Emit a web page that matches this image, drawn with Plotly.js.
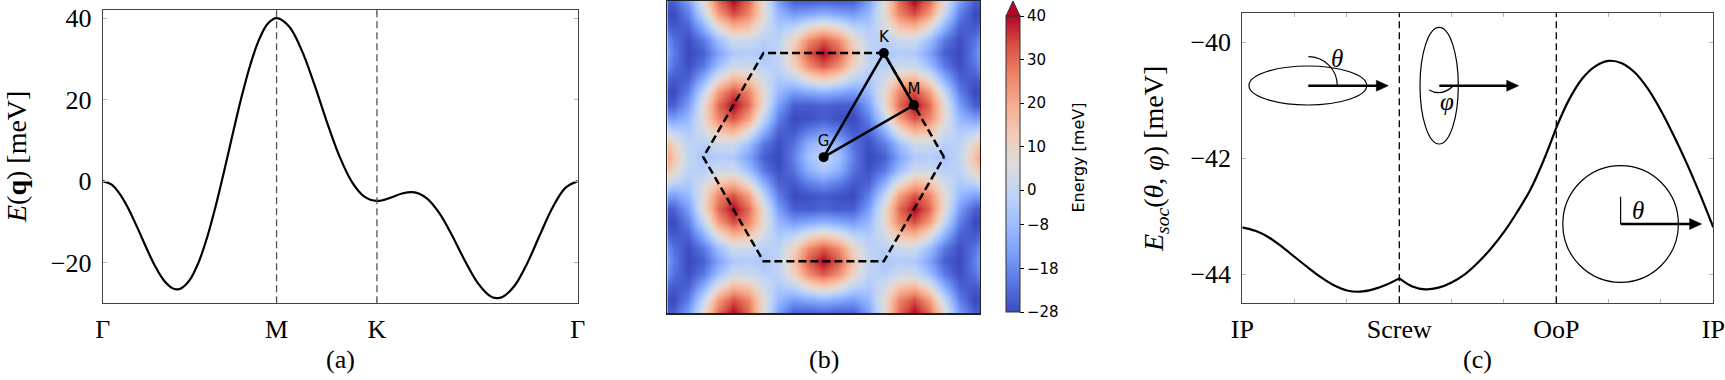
<!DOCTYPE html>
<html><head><meta charset="utf-8">
<script src="https://cdn.plot.ly/plotly-3.0.1.min.js"></script>
<style>html,body{margin:0;padding:0;background:#fff}#chart{width:1725px;height:380px}</style>
</head><body><div id="chart"></div>
<script>
// ---------- Panel (a): dispersion along Γ-M-K-Γ ----------
const pathTickPos = [0, 0.866, 1.366, 2.366];
const pathTickText = ['Γ', 'M', 'K', 'Γ'];
const pathX = [0, 0.0433, 0.0866, 0.1299, 0.1732, 0.2165, 0.2598, 0.3031, 0.3464, 0.3681, 0.3897, 0.4330, 0.4763, 0.5196, 0.5629, 0.6062, 0.6495, 0.6928, 0.7361, 0.7794, 0.8227, 0.8660,
  0.9285, 0.9910, 1.0535, 1.1160, 1.1785, 1.2410, 1.3035, 1.3660,
  1.4285, 1.4910, 1.5535, 1.6160, 1.6785, 1.7410, 1.8035, 1.8660, 1.9285, 1.9598, 1.9910, 2.0535, 2.1160, 2.1785, 2.2410, 2.3035, 2.3660];
const pathE = [0, -0.83, -3.25, -6.95, -11.49, -16.30, -20.77, -24.27, -26.27, -26.57, -26.37, -24.32, -20.11, -13.91, -6.11, 2.75, 11.98, 20.87, 28.69, 34.79, 38.67, 40.00,
  37.94, 32.15, 23.84, 14.62, 6.18, -0.18, -3.81, -4.86,
  -4.19, -3.05, -2.78, -4.32, -8.00, -13.41, -19.49, -24.86, -28.17, -28.72, -28.46, -25.56, -20.02, -13.12, -6.49, -1.72, 0];

// ---------- Panel (b): energy map ----------
const qxGrid = [-1.375, -1.25, -1.125, -1.0, -0.875, -0.75, -0.625, -0.5, -0.375, -0.25, -0.125, 0, 0.125, 0.25, 0.375, 0.5, 0.625, 0.75, 0.875, 1.0, 1.125, 1.25, 1.375];
const qyGrid = [-1.299, -1.19075, -1.0825, -0.97425, -0.866, -0.75775, -0.6495, -0.54125, -0.433, -0.32475, -0.2165, -0.10825, 0, 0.10825, 0.2165, 0.32475, 0.433, 0.54125, 0.6495, 0.75775, 0.866, 0.97425, 1.0825, 1.19075, 1.299];
const energyGrid = [
 [-25.55,-24.86,-14.32,7.30,30.15,40.00,30.15,7.30,-14.32,-24.86,-25.55,-24.32,-25.55,-24.86,-14.32,7.30,30.15,40.00,30.15,7.30,-14.32,-24.86,-25.55],
 [-27.32,-28.24,-19.73,0.23,22.55,33.51,26.51,7.88,-8.91,-14.99,-12.54,-10.18,-12.54,-14.99,-8.91,7.88,26.51,33.51,22.55,0.23,-19.73,-28.24,-27.32],
 [-20.02,-26.03,-24.32,-10.85,7.30,17.84,14.62,3.29,-4.32,-1.53,7.30,11.98,7.30,-1.53,-4.32,3.29,14.62,17.84,7.30,-10.85,-24.32,-26.03,-20.02],
 [-10.64,-21.95,-27.39,-20.85,-7.39,2.17,2.17,-2.38,-1.25,10.06,25.06,31.99,25.06,10.06,-1.25,-2.38,2.17,2.17,-7.39,-20.85,-27.39,-21.95,-10.64],
 [-6.49,-20.02,-28.46,-24.86,-13.41,-4.32,-3.05,-4.86,-0.18,14.62,32.15,40.00,32.15,14.62,-0.18,-4.86,-3.05,-4.32,-13.41,-24.86,-28.46,-20.02,-6.49],
 [-10.64,-21.95,-27.39,-20.85,-7.39,2.17,2.17,-2.38,-1.25,10.06,25.06,31.99,25.06,10.06,-1.25,-2.38,2.17,2.17,-7.39,-20.85,-27.39,-21.95,-10.64],
 [-20.02,-26.03,-24.32,-10.85,7.30,17.84,14.62,3.29,-4.32,-1.53,7.30,11.98,7.30,-1.53,-4.32,3.29,14.62,17.84,7.30,-10.85,-24.32,-26.03,-20.02],
 [-27.32,-28.24,-19.73,0.23,22.55,33.51,26.51,7.88,-8.91,-14.99,-12.54,-10.18,-12.54,-14.99,-8.91,7.88,26.51,33.51,22.55,0.23,-19.73,-28.24,-27.32],
 [-25.55,-24.86,-14.32,7.30,30.15,40.00,30.15,7.30,-14.32,-24.86,-25.55,-24.32,-25.55,-24.86,-14.32,7.30,30.15,40.00,30.15,7.30,-14.32,-24.86,-25.55],
 [-12.54,-14.99,-8.91,7.88,26.51,33.51,22.55,0.23,-19.73,-28.24,-27.32,-25.48,-27.32,-28.24,-19.73,0.23,22.55,33.51,26.51,7.88,-8.91,-14.99,-12.54],
 [7.30,-1.53,-4.32,3.29,14.62,17.84,7.30,-10.85,-24.32,-26.03,-20.02,-16.30,-20.02,-26.03,-24.32,-10.85,7.30,17.84,14.62,3.29,-4.32,-1.53,7.30],
 [25.06,10.06,-1.25,-2.38,2.17,2.17,-7.39,-20.85,-27.39,-21.95,-10.64,-4.97,-10.64,-21.95,-27.39,-20.85,-7.39,2.17,2.17,-2.38,-1.25,10.06,25.06],
 [32.15,14.62,-0.18,-4.86,-3.05,-4.32,-13.41,-24.86,-28.46,-20.02,-6.49,0.00,-6.49,-20.02,-28.46,-24.86,-13.41,-4.32,-3.05,-4.86,-0.18,14.62,32.15],
 [25.06,10.06,-1.25,-2.38,2.17,2.17,-7.39,-20.85,-27.39,-21.95,-10.64,-4.97,-10.64,-21.95,-27.39,-20.85,-7.39,2.17,2.17,-2.38,-1.25,10.06,25.06],
 [7.30,-1.53,-4.32,3.29,14.62,17.84,7.30,-10.85,-24.32,-26.03,-20.02,-16.30,-20.02,-26.03,-24.32,-10.85,7.30,17.84,14.62,3.29,-4.32,-1.53,7.30],
 [-12.54,-14.99,-8.91,7.88,26.51,33.51,22.55,0.23,-19.73,-28.24,-27.32,-25.48,-27.32,-28.24,-19.73,0.23,22.55,33.51,26.51,7.88,-8.91,-14.99,-12.54],
 [-25.55,-24.86,-14.32,7.30,30.15,40.00,30.15,7.30,-14.32,-24.86,-25.55,-24.32,-25.55,-24.86,-14.32,7.30,30.15,40.00,30.15,7.30,-14.32,-24.86,-25.55],
 [-27.32,-28.24,-19.73,0.23,22.55,33.51,26.51,7.88,-8.91,-14.99,-12.54,-10.18,-12.54,-14.99,-8.91,7.88,26.51,33.51,22.55,0.23,-19.73,-28.24,-27.32],
 [-20.02,-26.03,-24.32,-10.85,7.30,17.84,14.62,3.29,-4.32,-1.53,7.30,11.98,7.30,-1.53,-4.32,3.29,14.62,17.84,7.30,-10.85,-24.32,-26.03,-20.02],
 [-10.64,-21.95,-27.39,-20.85,-7.39,2.17,2.17,-2.38,-1.25,10.06,25.06,31.99,25.06,10.06,-1.25,-2.38,2.17,2.17,-7.39,-20.85,-27.39,-21.95,-10.64],
 [-6.49,-20.02,-28.46,-24.86,-13.41,-4.32,-3.05,-4.86,-0.18,14.62,32.15,40.00,32.15,14.62,-0.18,-4.86,-3.05,-4.32,-13.41,-24.86,-28.46,-20.02,-6.49],
 [-10.64,-21.95,-27.39,-20.85,-7.39,2.17,2.17,-2.38,-1.25,10.06,25.06,31.99,25.06,10.06,-1.25,-2.38,2.17,2.17,-7.39,-20.85,-27.39,-21.95,-10.64],
 [-20.02,-26.03,-24.32,-10.85,7.30,17.84,14.62,3.29,-4.32,-1.53,7.30,11.98,7.30,-1.53,-4.32,3.29,14.62,17.84,7.30,-10.85,-24.32,-26.03,-20.02],
 [-27.32,-28.24,-19.73,0.23,22.55,33.51,26.51,7.88,-8.91,-14.99,-12.54,-10.18,-12.54,-14.99,-8.91,7.88,26.51,33.51,22.55,0.23,-19.73,-28.24,-27.32],
 [-25.55,-24.86,-14.32,7.30,30.15,40.00,30.15,7.30,-14.32,-24.86,-25.55,-24.32,-25.55,-24.86,-14.32,7.30,30.15,40.00,30.15,7.30,-14.32,-24.86,-25.55]
];
const hexX = [1, 0.5, -0.5, -1, -0.5, 0.5, 1];
const hexY = [0, 0.866, 0.866, 0, -0.866, -0.866, 0];
const kPathX = [0, 0.5, 0.75, 0];
const kPathY = [0, 0.866, 0.433, 0];
const kPointX = [0, 0.5, 0.75];
const kPointY = [0, 0.866, 0.433];
const kPointLabel = ['G', 'K', 'M'];
const cbTicks = [-28, -18, -8, 0, 10, 20, 30, 40];

// ---------- Panel (c): spin-orbit energy ----------
const socTickPos = [0, 1, 2, 3];
const socTickText = ['IP', 'Screw', 'OoP', 'IP'];
const socMinorPos = [1/3, 2/3, 4/3, 5/3, 7/3, 8/3];
const seg1X = [0, 0.083, 0.167, 0.25, 0.333, 0.417, 0.5, 0.583, 0.667, 0.75, 0.833, 0.917, 1.0];
const seg1E = [-43.19, -43.25, -43.36, -43.52, -43.70, -43.88, -44.05, -44.19, -44.28, -44.30, -44.26, -44.18, -44.07];
const seg2X = [1.0, 1.083, 1.167, 1.25, 1.333, 1.417, 1.5, 1.583, 1.667, 1.75, 1.833, 1.917, 2.0];
const seg2E = [-44.07, -44.21, -44.26, -44.23, -44.14, -44.00, -43.80, -43.56, -43.27, -42.93, -42.55, -42.05, -41.47];
const seg3X = [2.0, 2.083, 2.167, 2.25, 2.333, 2.417, 2.5, 2.583, 2.667, 2.75, 2.833, 2.917, 3.0];
const seg3E = [-41.47, -40.98, -40.62, -40.41, -40.32, -40.36, -40.52, -40.80, -41.18, -41.62, -42.10, -42.63, -43.19];

// ---------- helpers ----------
const W = 1725, H = 380;
const PX = x => x / W;
const PY = y => 1 - y / H;
const SERIF = 'Liberation Serif, Times New Roman, serif';
const SANS = 'DejaVu Sans, sans-serif';
const coolwarm = [[0, '#3b4cc0'], [0.1, '#5977e3'], [0.2, '#7b9ff9'], [0.3, '#9ebeff'], [0.4, '#c0d4f5'], [0.5, '#dddcdc'], [0.6, '#f2cbb7'], [0.7, '#f7ac8e'], [0.8, '#ee8468'], [0.9, '#d65244'], [1, '#b40426']];

const traces = [
  {type: 'scatter', mode: 'lines', x: pathX, y: pathE, xaxis: 'x', yaxis: 'y',
   line: {color: '#000', width: 2.2, shape: 'spline', smoothing: 1}, hoverinfo: 'skip'},
  {type: 'heatmap', x: qxGrid, y: qyGrid, z: energyGrid, xaxis: 'x2', yaxis: 'y2',
   zsmooth: 'best', colorscale: coolwarm, zmin: -28, zmax: 40,
   colorbar: {x: PX(1006), xanchor: 'left', y: 1 - 312 / H, yanchor: 'bottom', len: (312 - 16) / H, lenmode: 'fraction',
     thickness: 14, thicknessmode: 'pixels', xpad: 0, ypad: 0, outlinewidth: 1, outlinecolor: '#333',
     tickmode: 'array', tickvals: cbTicks, ticks: 'outside', ticklen: 4, tickwidth: 1, tickcolor: '#000',
     tickfont: {family: SANS, size: 15, color: '#000'}}},
  {type: 'scatter', mode: 'lines', x: hexX, y: hexY, xaxis: 'x2', yaxis: 'y2',
   line: {color: '#000', width: 2.5, dash: '8px,4px'}, hoverinfo: 'skip'},
  {type: 'scatter', mode: 'lines', x: kPathX, y: kPathY, xaxis: 'x2', yaxis: 'y2',
   line: {color: '#000', width: 2.5}, hoverinfo: 'skip'},
  {type: 'scatter', mode: 'markers+text', x: kPointX, y: kPointY, text: kPointLabel, xaxis: 'x2', yaxis: 'y2',
   textposition: 'top center', textfont: {family: SANS, size: 15, color: '#000'},
   marker: {color: '#000', size: 10}, hoverinfo: 'skip'},
  {type: 'scatter', mode: 'lines', x: seg1X, y: seg1E, xaxis: 'x3', yaxis: 'y3',
   line: {color: '#000', width: 2.2, shape: 'spline', smoothing: 1}, hoverinfo: 'skip'},
  {type: 'scatter', mode: 'lines', x: seg2X, y: seg2E, xaxis: 'x3', yaxis: 'y3',
   line: {color: '#000', width: 2.2, shape: 'spline', smoothing: 1}, hoverinfo: 'skip'},
  {type: 'scatter', mode: 'lines', x: seg3X, y: seg3E, xaxis: 'x3', yaxis: 'y3',
   line: {color: '#000', width: 2.2, shape: 'spline', smoothing: 1}, hoverinfo: 'skip'}
];

const pgfAxis = {ticks: 'inside', ticklen: 4, tickwidth: 1, tickcolor: '#b4b4b4', showline: true, linecolor: '#444', linewidth: 1,
  mirror: 'ticks', showgrid: false, zeroline: false, tickfont: {family: SERIF, size: 26, color: '#000'}, tickmode: 'array'};

const shapes = [];
[pathTickPos[1], pathTickPos[2]].forEach(v => shapes.push({type: 'line', xref: 'x', yref: 'y domain', x0: v, x1: v, y0: 0, y1: 1,
  line: {color: '#555', width: 1.3, dash: '7px,4px'}}));
[socTickPos[1], socTickPos[2]].forEach(v => shapes.push({type: 'line', xref: 'x3', yref: 'y3 domain', x0: v, x1: v, y0: 0, y1: 1,
  line: {color: '#000', width: 1.3, dash: '7px,4px'}}));
const thin = {color: '#000', width: 1.2};
shapes.push({type: 'circle', xref: 'paper', yref: 'paper', x0: PX(1249), x1: PX(1366.7), y0: PY(105), y1: PY(66), line: thin});
shapes.push({type: 'circle', xref: 'paper', yref: 'paper', x0: PX(1420), x1: PX(1458.3), y0: PY(144), y1: PY(27.3), line: thin});
shapes.push({type: 'circle', xref: 'paper', yref: 'paper', x0: PX(1562.8), x1: PX(1678.4), y0: PY(282.3), y1: PY(165.7), line: thin});
shapes.push({type: 'path', xref: 'paper', yref: 'paper', line: thin,
  path: `M ${PX(1308.3)},${PY(56.7)} C ${PX(1324.3)},${PY(56.7)} ${PX(1337.3)},${PY(69.7)} ${PX(1337.3)},${PY(85.7)}`});
shapes.push({type: 'path', xref: 'paper', yref: 'paper', line: thin,
  path: `M ${PX(1429.3)},${PY(90)} Q ${PX(1441)},${PY(97)} ${PX(1453.3)},${PY(86)}`});
shapes.push({type: 'line', xref: 'paper', yref: 'paper', x0: PX(1620.6), x1: PX(1620.6), y0: PY(196.7), y1: PY(224), line: thin});
function arrow(x0, x1, y) {
  shapes.push({type: 'line', xref: 'paper', yref: 'paper', x0: PX(x0), x1: PX(x1 - 8), y0: PY(y), y1: PY(y), line: {color: '#000', width: 2.5}});
  shapes.push({type: 'path', xref: 'paper', yref: 'paper', fillcolor: '#000', line: {color: '#000', width: 0.5},
    path: `M ${PX(x1)},${PY(y)} L ${PX(x1 - 12)},${PY(y - 5.5)} L ${PX(x1 - 12)},${PY(y + 5.5)} Z`});
}
arrow(1308.3, 1388.3, 85.7);
arrow(1439.3, 1518.7, 85.7);
arrow(1620.6, 1701.6, 224);
shapes.push({type: 'path', xref: 'paper', yref: 'paper', fillcolor: '#b40426', line: {color: '#333', width: 1},
  path: `M ${PX(1006)},${PY(16)} L ${PX(1013)},${PY(1)} L ${PX(1020)},${PY(16)} Z`});

const ann = (text, x, y, size, opts = {}) => Object.assign({text, x: PX(x), y: PY(y), xref: 'paper', yref: 'paper', showarrow: false,
  xanchor: 'center', yanchor: 'middle', font: {family: SERIF, size, color: '#000'}}, opts);
const annotations = [
  ann('<i>E</i>(<b>q</b>) [meV]', 16, 157, 28, {textangle: -90}),
  ann('<i>E</i><sub><i>soc</i></sub>(<i>θ</i>, <i>φ</i>) [meV]', 1155, 159, 28, {textangle: -90}),
  ann('Energy [meV]', 1078, 157.5, 16, {textangle: -90, font: {family: SANS, size: 16, color: '#000'}}),
  ann('(a)', 340, 359, 26),
  ann('(b)', 823.6, 359, 26),
  ann('(c)', 1477.8, 359, 26),
  ann('<i>θ</i>', 1336.7, 58.3, 25),
  ann('<i>φ</i>', 1446.7, 101.7, 25),
  ann('<i>θ</i>', 1638.1, 210.7, 25)
];

const layout = {
  width: W, height: H, margin: {l: 0, r: 0, t: 0, b: 0}, paper_bgcolor: '#fff', plot_bgcolor: '#fff', showlegend: false,
  xaxis: Object.assign({}, pgfAxis, {domain: [PX(102.7), PX(577.7)], range: [0, 2.366], anchor: 'y', tickvals: pathTickPos, ticktext: pathTickText, ticklabelstandoff: 2}),
  yaxis: Object.assign({}, pgfAxis, {domain: [PY(303.3), PY(10)], range: [-30, 42], anchor: 'x', tickvals: [-20, 0, 20, 40], ticklabelstandoff: 5}),
  xaxis2: {domain: [PX(667.3), PX(980)], range: [-1.299, 1.299], anchor: 'y2', showticklabels: false, ticks: '', showline: true, mirror: true,
    linecolor: '#222', linewidth: 1.2, showgrid: false, zeroline: false},
  yaxis2: {domain: [PY(313.3), PY(1)], range: [-1.299, 1.299], anchor: 'x2', showticklabels: false, ticks: '', showline: true, mirror: true,
    linecolor: '#222', linewidth: 1.2, showgrid: false, zeroline: false},
  xaxis3: Object.assign({}, pgfAxis, {domain: [PX(1242.3), PX(1713.3)], range: [0, 3], anchor: 'y3', tickvals: socTickPos, ticktext: socTickText, ticklabelstandoff: 2,
    minor: {tickmode: 'array', tickvals: socMinorPos, ticks: 'inside', ticklen: 4, tickwidth: 1, tickcolor: '#b4b4b4', showgrid: false}}),
  yaxis3: Object.assign({}, pgfAxis, {domain: [PY(303.3), PY(13.3)], range: [-44.5, -39.5], anchor: 'x3', tickvals: [-44, -42, -40], ticklabelstandoff: 5}),
  shapes, annotations
};
Plotly.newPlot('chart', traces, layout, {staticPlot: true, displayModeBar: false});
</script></body></html>
